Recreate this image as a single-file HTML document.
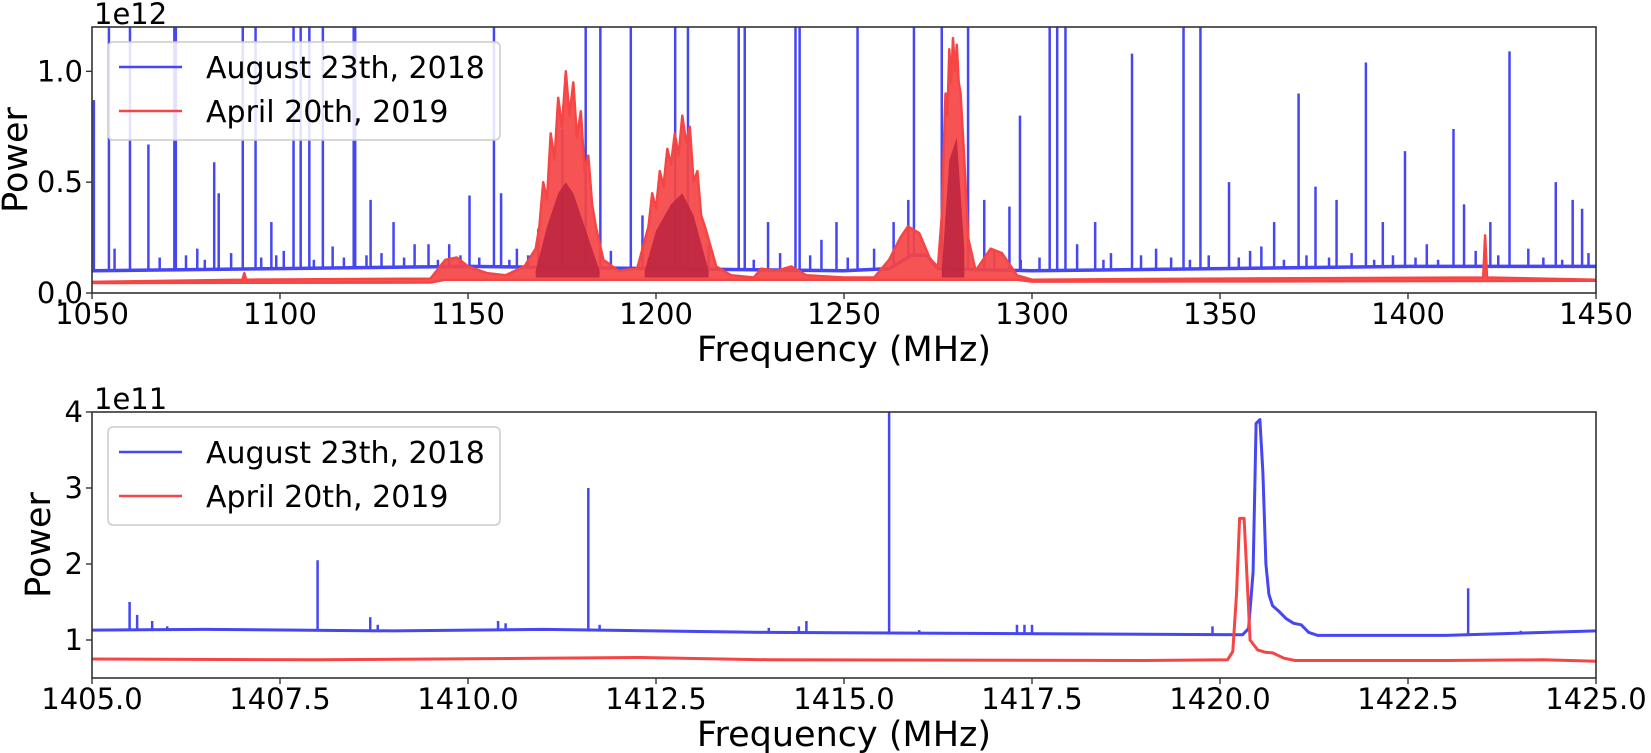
<!DOCTYPE html>
<html><head><meta charset="utf-8"><style>
html,body{margin:0;padding:0;background:#fff}
svg{display:block;font-family:"DejaVu Sans","Liberation Sans",sans-serif}
</style></head><body>
<svg id="chart" width="1651" height="753" viewBox="0 0 1651 753">
<defs>
<clipPath id="clipTop"><rect x="92" y="27" width="1504" height="266"/></clipPath>
<clipPath id="clipBot"><rect x="92" y="412" width="1504" height="266"/></clipPath>
</defs>
<g id="top"></g>
<g id="bot"></g>
</svg>
<script>
// ---- Top panel data (power in 1e12) ----
const topXTicks = [1050,1100,1150,1200,1250,1300,1350,1400,1450];
const topYTicks = [0.0,0.5,1.0];
const topYTickLabels = ["0.0","0.5","1.0"];
const topBlueBaseF = [1050,1100,1150,1200,1250,1262,1266,1268,1272,1275,1300,1350,1400,1450];
const topBlueBaseV = [0.10,0.11,0.12,0.11,0.10,0.11,0.15,0.17,0.17,0.11,0.10,0.11,0.12,0.12];
const topBlueSpikeF = [1050.5,1054.5,1060.1,1071.9,1072.3,1082.5,1083.7,1090.1,1093.5,1097.7,1103.6,1105.5,1107.8,1111.4,1119.6,1120.0,1124.1,1130.2,1135.8,1139.5,1150.4,1156.9,1158.8,1168.7,1175.1,1181.3,1185.2,1193.3,1196.4,1205.1,1208.5,1222.0,1223.6,1229.8,1237.1,1238.2,1248.0,1253.6,1263.2,1267.1,1268.6,1276.0,1283.0,1287.3,1294.0,1296.8,1304.7,1306.7,1308.9,1316.8,1326.6,1340.3,1344.8,1352.4,1364.4,1370.9,1375.4,1381.0,1388.8,1393.3,1399.2,1412.1,1414.9,1421.9,1427.0,1439.3,1443.8,1446.3,1065,1078,1087,1101,1114,1127,1145,1163,1188,1214,1233,1244,1258,1290,1312,1321,1333,1358,1361,1385,1405,1418,1432,1448,1056,1068,1075,1080,1095,1099,1109,1117,1123,1133,1142,1148,1153,1161,1166,1198,1226,1241,1251,1297,1302,1319,1329,1337,1342,1347,1355,1367,1373,1379,1391,1396,1402,1408,1424,1436,1441];
const topBlueSpikeV = [0.85,1.2,1.2,1.2,1.2,0.57,0.43,1.2,1.2,0.3,1.2,1.2,1.2,1.2,1.2,1.2,0.4,0.3,0.2,0.2,0.42,1.2,0.43,0.27,0.72,1.2,1.2,1.2,0.33,1.2,1.2,1.2,1.2,0.3,1.2,1.2,0.3,1.2,0.3,0.4,1.2,1.2,1.2,0.4,0.37,0.78,1.2,1.2,1.2,0.3,1.06,1.2,1.2,0.48,0.3,0.88,0.46,0.4,1.02,0.3,0.62,0.72,0.38,0.3,1.07,0.48,0.4,0.36,0.65,0.18,0.16,0.17,0.19,0.16,0.2,0.18,0.17,0.2,0.16,0.22,0.18,0.17,0.2,0.16,0.18,0.17,0.19,0.16,0.2,0.17,0.18,0.16,0.18,0.14,0.15,0.13,0.14,0.15,0.13,0.14,0.15,0.14,0.13,0.15,0.14,0.13,0.15,0.14,0.13,0.15,0.14,0.13,0.14,0.13,0.15,0.14,0.13,0.15,0.14,0.13,0.15,0.14,0.13,0.15,0.14,0.13,0.15,0.14,0.13,0.15];
const topRedEnvF = [1050,1090,1090.5,1091,1140,1144,1147,1150,1155,1160,1165,1168,1169,1170,1171,1172,1173,1174,1175,1176,1177,1178,1179,1180,1181,1182,1183,1184,1186,1190,1195,1198,1199,1200,1201,1202,1203,1204,1205,1206,1207,1208,1209,1210,1211,1212,1213,1216,1220,1226,1228,1232,1236,1240,1250,1258,1262,1265,1267,1270,1273,1275,1276,1277,1277.5,1278,1278.5,1279,1279.5,1280,1280.5,1281,1282,1283,1285,1287,1289,1292,1296,1300,1350,1420,1420.5,1421,1450];
const topRedEnvV = [0.05,0.06,0.09,0.06,0.065,0.15,0.16,0.12,0.09,0.08,0.12,0.2,0.3,0.5,0.42,0.72,0.6,0.88,0.75,1.0,0.8,0.95,0.7,0.82,0.55,0.62,0.4,0.3,0.15,0.1,0.11,0.3,0.45,0.38,0.55,0.48,0.65,0.58,0.72,0.62,0.8,0.68,0.75,0.5,0.55,0.35,0.3,0.12,0.08,0.07,0.11,0.1,0.12,0.08,0.07,0.07,0.15,0.25,0.3,0.27,0.15,0.12,0.35,0.9,0.8,1.1,0.95,1.15,1.0,1.12,0.95,0.9,0.6,0.25,0.1,0.15,0.2,0.18,0.08,0.06,0.065,0.07,0.26,0.07,0.06];
const topRedCoreF = [1168,1171,1174,1176,1178,1181,1185,1197,1200,1204,1207,1210,1214,1276,1278,1280,1282];
const topRedCoreV = [0.1,0.3,0.45,0.5,0.45,0.3,0.1,0.1,0.28,0.4,0.45,0.35,0.1,0.1,0.6,0.7,0.2];
// ---- Bottom panel data (power in 1e11) ----
const botXTicks = [1405,1407.5,1410,1412.5,1415,1417.5,1420,1422.5,1425];
const botXTickLabels = ["1405.0","1407.5","1410.0","1412.5","1415.0","1417.5","1420.0","1422.5","1425.0"];
const botYTicks = [1,2,3,4];
const botBlueF = [1405,1406.5,1409,1411,1414,1418,1420.3,1420.38,1420.44,1420.48,1420.53,1420.57,1420.61,1420.65,1420.7,1420.78,1420.88,1420.98,1421.08,1421.18,1421.3,1423,1425];
const botBlueV = [1.13,1.14,1.12,1.14,1.1,1.08,1.07,1.15,1.9,3.85,3.9,3.2,2.0,1.6,1.45,1.38,1.28,1.22,1.2,1.1,1.06,1.06,1.12];
const botBlueSpikeF = [1405.5,1405.6,1405.8,1406.0,1408.0,1408.7,1408.8,1410.4,1410.5,1411.6,1411.75,1414.0,1414.5,1414.4,1415.6,1416.0,1417.3,1417.4,1417.5,1419.9,1423.3,1424.0];
const botBlueSpikeV = [1.5,1.33,1.25,1.18,2.05,1.3,1.2,1.25,1.22,3.0,1.2,1.16,1.25,1.18,4.1,1.13,1.2,1.2,1.2,1.18,1.68,1.12];
const botRedF = [1405,1408,1412.3,1414,1419,1420.1,1420.17,1420.22,1420.26,1420.32,1420.36,1420.4,1420.5,1420.6,1420.7,1420.85,1421,1423,1424.3,1425];
const botRedV = [0.75,0.74,0.77,0.74,0.73,0.74,0.85,1.6,2.6,2.6,1.8,1.0,0.87,0.84,0.83,0.76,0.73,0.73,0.74,0.72];

const NS = "http://www.w3.org/2000/svg";
function mk(tag, attrs, parent){const e=document.createElementNS(NS,tag);for(const k in attrs)e.setAttribute(k,attrs[k]);parent.appendChild(e);return e;}
function interp(fs,vs,f){for(let i=1;i<fs.length;i++){if(f<=fs[i]){const t=(f-fs[i-1])/(fs[i]-fs[i-1]);return vs[i-1]+t*(vs[i]-vs[i-1]);}}return vs[vs.length-1];}
const BLUE="#4646f2", RED="#f54545";

function panel(g, cfg){
  const L=92,R=1596,T=cfg.top,B=cfg.top+266;
  const sx=f=>L+(f-cfg.x0)/(cfg.x1-cfg.x0)*(R-L);
  const sy=v=>B-(v-cfg.y0)/(cfg.y1-cfg.y0)*(B-T);
  const plot=mk('g',{'clip-path':'url(#'+cfg.clip+')'},g);
  
  
  cfg.draw(plot,sx,sy);
  const frame=mk('rect',{x:L,y:T,width:R-L,height:B-T,fill:'none',stroke:'#333','stroke-width':1.6},g);
  
  
  cfg.xt.forEach((v,i)=>{
    const x=sx(v);
    mk('line',{x1:x,x2:x,y1:B,y2:B+6,stroke:'#333','stroke-width':1.4},g);
    const t=mk('text',{x:x,y:B+31,'font-size':29,'text-anchor':'middle',fill:'#000'},g);
    t.textContent=cfg.xtl[i];
    
    
  });
  cfg.yt.forEach((v,i)=>{
    const y=sy(v);
    mk('line',{x1:L-6,x2:L,y1:y,y2:y,stroke:'#333','stroke-width':1.4},g);
    const t=mk('text',{x:L-9,y:y+10,'font-size':29,'text-anchor':'end',fill:'#000'},g);
    t.textContent=cfg.ytl[i];
    
    
  });
  const off=mk('text',{x:L+2,y:T-3,'font-size':29,fill:'#000'},g);
  off.textContent=cfg.offset;
  
  
  const xl=mk('text',{x:(L+R)/2,y:B+68,'font-size':35,'text-anchor':'middle',fill:'#000'},g);
  xl.textContent='Frequency (MHz)';
  
  
  const yl=mk('text',{x:0,y:0,'font-size':35,'text-anchor':'middle',fill:'#000',transform:'translate('+(cfg.ylx)+','+((T+B)/2)+') rotate(-90)'},g);
  yl.textContent='Power';
  
  
  const lg=mk('g',{},g);
  
  
  const LT=cfg.top+15;
  mk('rect',{x:108,y:LT,width:392,height:98,rx:5,fill:'#fff','fill-opacity':0.85,stroke:'#ccc','stroke-width':1.5},lg);
  [['August 23th, 2018',BLUE],['April 20th, 2019',RED]].forEach((it,i)=>{
    const y=LT+25+i*44;
    const ln=mk('line',{x1:119,x2:182,y1:y,y2:y,stroke:it[1],'stroke-width':2.5},lg);
    
    
    const t=mk('text',{x:206,y:y+11,'font-size':30,fill:'#000'},lg);
    t.textContent=it[0];
    
    
  });
}
function poly(fs,vs,sx,sy){return fs.map((f,i)=>sx(f).toFixed(1)+','+sy(vs[i]).toFixed(1)).join(' ');}

panel(document.getElementById('top'),{
  top:27,x0:1050,x1:1450,y0:0,y1:1.2,clip:'clipTop',
  xt:topXTicks,xtl:topXTicks.map(String),yt:topYTicks,ytl:topYTickLabels,offset:'1e12',ylx:27,
  draw:(p,sx,sy)=>{
    const bl=mk('polyline',{points:poly(topBlueBaseF,topBlueBaseV,sx,sy),fill:'none',stroke:BLUE,'stroke-width':3.5},p);
    
    
    topBlueSpikeF.forEach((f,i)=>{
      const x=sx(f);
      const s=mk('line',{x1:x,x2:x,y1:sy(interp(topBlueBaseF,topBlueBaseV,f)),y2:sy(topBlueSpikeV[i]+0.02),stroke:BLUE,'stroke-width':2.5},p);
      
      
    });
    const baseV=topRedEnvF.map(f=>f>1140&&f<1300?0.065:interp([1050,1450],[0.05,0.06],f));
    const ptsTop=poly(topRedEnvF,topRedEnvV,sx,sy);
    const ptsBot=topRedEnvF.slice().reverse().map((f,i)=>sx(f).toFixed(1)+','+sy(baseV[baseV.length-1-i]-0.005).toFixed(1)).join(' ');
    const rp=mk('polygon',{points:ptsTop+' '+ptsBot,fill:RED,'fill-opacity':0.92,stroke:RED,'stroke-width':2.5,'stroke-linejoin':'round'},p);
    
    
    [[0,7],[7,13],[13,17]].forEach(r=>{
      const fs=topRedCoreF.slice(r[0],r[1]),vs=topRedCoreV.slice(r[0],r[1]);
      const pts=poly(fs,vs,sx,sy)+' '+sx(fs[fs.length-1]).toFixed(1)+','+sy(0.07)+' '+sx(fs[0]).toFixed(1)+','+sy(0.07);
      const c=mk('polygon',{points:pts,fill:'#b8213f','fill-opacity':0.8},p);
      
      
    });
  }
});
panel(document.getElementById('bot'),{
  top:412,x0:1405,x1:1425,y0:0.5,y1:4,clip:'clipBot',
  xt:botXTicks,xtl:botXTickLabels,yt:botYTicks,ytl:botYTicks.map(String),offset:'1e11',ylx:50,
  draw:(p,sx,sy)=>{
    const bl=mk('polyline',{points:poly(botBlueF,botBlueV,sx,sy),fill:'none',stroke:BLUE,'stroke-width':3,'stroke-linejoin':'round'},p);
    
    
    botBlueSpikeF.forEach((f,i)=>{
      const x=sx(f);
      const s=mk('line',{x1:x,x2:x,y1:sy(interp(botBlueF,botBlueV,f)),y2:sy(botBlueSpikeV[i]),stroke:BLUE,'stroke-width':2.5},p);
      
      
    });
    const rl=mk('polyline',{points:poly(botRedF,botRedV,sx,sy),fill:'none',stroke:RED,'stroke-width':3,'stroke-linejoin':'round'},p);
    
    
  }
});
</script>
</body></html>
